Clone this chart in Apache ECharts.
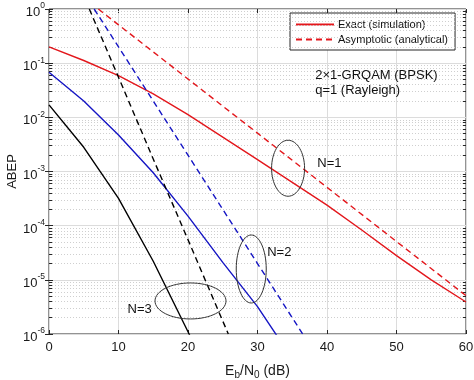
<!DOCTYPE html>
<html>
<head>
<meta charset="utf-8">
<script src="https://cdn.jsdelivr.net/npm/echarts@6/dist/echarts.min.js"></script>
<style>html,body{margin:0;padding:0;background:#fff}#c{width:474px;height:380px}</style>
</head>
<body>
<div id="c"></div>
<script>
// ---- data ----
const snr = [0, 5, 10, 15, 20, 25, 30, 35, 40, 45, 50, 55, 60];
const exactN1 = [0.2, 0.112, 0.059, 0.027, 0.0112, 0.0043, 0.00166, 0.00063, 0.00024, 8.3e-5, 2.8e-5, 1.0e-5, 3.9e-6];
const exactN2 = [0.068, 0.020, 0.0047, 0.00095, 0.00015, 2.1e-5, 3.2e-6, 3.5e-7];
const exactN3 = [0.017, 0.0028, 0.00032, 2.2e-5, 1.1e-6, 5e-8];
const asymN1X = [7.1, 10, 20, 30, 40, 50, 60];
const asymN1Y = [1, 0.51, 0.051, 0.0051, 5.1e-4, 5.1e-5, 5.1e-6];
const asymN2X = [6.5, 10, 15, 20, 25, 30, 36.5];
const asymN2Y = [1, 0.2, 0.02, 0.002, 2e-4, 2e-5, 1e-6];
const asymN3X = [5.8, 10, 15, 20, 25.8];
const asymN3Y = [1, 0.055, 0.0017, 5.5e-5, 1e-6];
const xTicks = [0, 10, 20, 30, 40, 50, 60];
const legendNames = ['Exact (simulation)', 'Asymptotic (analytical)'];
// annotations (data coordinates)
const ellipseCenters = [[34.4, 10 ** -2.94], [29.1, 10 ** -4.80], [20.36, 10 ** -5.39]];
const ellipseLabels = ['N=1', 'N=2', 'N=3'];
const labelPos = [[38.6, 10 ** -2.85], [31.4, 10 ** -4.49], [11.3, 10 ** -5.54]];
const noteLines = ['2\u00D71-GRQAM (BPSK)', 'q=1 (Rayleigh)'];
const notePos = [[38.3, 10 ** -1.225], [38.3, 10 ** -1.50]];

const RED = '#e3171c', BLUE = '#1515c4', BLACK = '#000000';
const FONT = 'Liberation Sans, Arial, Helvetica, sans-serif';

// minor grid positions (2..9 x 10^k)
const minorVals = [];
for (let k = -6; k < 0; k++) for (let m = 2; m <= 9; m++) minorVals.push(m * Math.pow(10, k));
const minorLines = minorVals.map(v => [{coord: [0, v]}, {coord: [60, v]}]);
const minorTicks = [];
minorVals.forEach(v => {
  minorTicks.push([{coord: [0, v]}, {coord: [0.45, v]}]);
  minorTicks.push([{coord: [59.55, v]}, {coord: [60, v]}]);
});

const zip = (xs, ys) => ys.map((y, i) => [xs[i], y]);

const chart = echarts.init(document.getElementById('c'), null, {renderer: 'canvas'});
const lineBase = {type: 'line', symbol: 'none', showSymbol: false, clip: true, animation: false, silent: true};

const option = {
  animation: false,
  backgroundColor: '#fff',
  textStyle: {fontFamily: FONT},
  grid: {left: 49, right: 8, top: 9, bottom: 46, containLabel: false, outerBoundsMode: 'none',
    show: true, borderColor: '#262626', borderWidth: 1, backgroundColor: '#fff'},
  legend: {
    data: legendNames,
    orient: 'vertical',
    left: 290, top: 13,
    padding: [6, 7, 5, 5],
    itemWidth: 38, itemHeight: 10, itemGap: 4,
    backgroundColor: '#fff',
    borderColor: '#262626', borderWidth: 1, borderRadius: 0,
    itemStyle: {opacity: 0},
    textStyle: {fontSize: 11, color: '#111', fontFamily: FONT, padding: [0, 0, 0, -1]},
    selectedMode: false
  },
  xAxis: [{
    type: 'value', min: 0, max: 60, interval: 10,
    axisLine: {show: false},
    axisTick: {show: true, inside: true, length: 4, lineStyle: {color: '#262626'}},
    axisLabel: {fontSize: 13, color: '#1a1a1a', margin: 7, fontFamily: FONT},
    splitLine: {show: true, lineStyle: {color: '#dcdcdc', width: 1}},
    name: 'E{sub|b}/N{sub|0} (dB)',
    nameLocation: 'middle', nameGap: 28,
    nameTextStyle: {fontSize: 14, color: '#1a1a1a', fontFamily: FONT,
      rich: {sub: {fontSize: 10, padding: [8, 0, 0, 0], color: '#1a1a1a', fontFamily: FONT}}}
  }, {
    type: 'value', min: 0, max: 60, interval: 10, position: 'top',
    axisLine: {show: false},
    axisTick: {show: true, inside: true, length: 4, lineStyle: {color: '#262626'}},
    axisLabel: {show: false}, splitLine: {show: false}
  }],
  yAxis: [{
    type: 'log', logBase: 10, min: 1e-6, max: 1,
    axisLine: {show: false},
    axisTick: {show: true, inside: true, length: 4, lineStyle: {color: '#262626'}},
    axisLabel: {
      margin: 4, color: '#1a1a1a', fontFamily: FONT,
      formatter: v => '{b|10}{s|' + Math.round(Math.log10(v)) + '}',
      rich: {
        b: {fontSize: 13, color: '#1a1a1a', fontFamily: FONT, padding: [7, 0, 0, 0]},
        s: {fontSize: 8.5, color: '#1a1a1a', fontFamily: FONT, padding: [0, 0, 6, 0]}
      }
    },
    splitLine: {show: true, lineStyle: {color: '#dcdcdc', width: 1}},
    name: 'ABEP', nameLocation: 'middle', nameGap: 30, nameRotate: 90, nameMoveOverlap: false,
    nameTextStyle: {fontSize: 13, color: '#1a1a1a', fontFamily: FONT}
  }, {
    type: 'log', logBase: 10, min: 1e-6, max: 1, position: 'right',
    axisLine: {show: false},
    axisTick: {show: true, inside: true, length: 4, lineStyle: {color: '#262626'}},
    axisLabel: {show: false}, splitLine: {show: false}
  }],
  series: [
    Object.assign({}, lineBase, {
      name: legendNames[0], z: 5,
      data: zip(snr, exactN1),
      lineStyle: {color: RED, width: 1.4}, itemStyle: {color: RED},
      markLine: {
        silent: true, symbol: ['none', 'none'], animation: false,
        label: {show: false},
        lineStyle: {color: '#cfcfcf', width: 1, type: [1, 2]},
        data: minorLines
      }
    }),
    Object.assign({}, lineBase, {
      name: legendNames[1], z: 5,
      data: zip(asymN1X, asymN1Y),
      lineStyle: {color: RED, width: 1.4, type: [6, 4]}, itemStyle: {color: RED},
      markLine: {
        silent: true, symbol: ['none', 'none'], animation: false,
        label: {show: false},
        lineStyle: {color: '#262626', width: 1, type: 'solid'},
        data: minorTicks
      }
    }),
    Object.assign({}, lineBase, {
      name: 'exactN2', z: 5,
      data: zip(snr, exactN2),
      lineStyle: {color: BLUE, width: 1.4}, itemStyle: {color: BLUE}
    }),
    Object.assign({}, lineBase, {
      name: 'asymN2', z: 5,
      data: zip(asymN2X, asymN2Y),
      lineStyle: {color: BLUE, width: 1.4, type: [6, 4]}, itemStyle: {color: BLUE}
    }),
    Object.assign({}, lineBase, {
      name: 'exactN3', z: 5,
      data: zip(snr, exactN3),
      lineStyle: {color: BLACK, width: 1.4}, itemStyle: {color: BLACK}
    }),
    Object.assign({}, lineBase, {
      name: 'asymN3', z: 5,
      data: zip(asymN3X, asymN3Y),
      lineStyle: {color: BLACK, width: 1.4, type: [6, 4]}, itemStyle: {color: BLACK}
    })
  ]
};
chart.setOption(option);

// annotations positioned through the chart's own scales
const px = p => chart.convertToPixel({gridIndex: 0}, p);
const radii = [[16.5, 28], [15, 34], [35.5, 18]];
const graphics = [];
ellipseCenters.forEach((c, i) => {
  const p = px(c);
  graphics.push({type: 'ellipse', z: 20, silent: true,
    shape: {cx: p[0], cy: p[1], rx: radii[i][0], ry: radii[i][1]},
    style: {fill: null, stroke: '#333', lineWidth: 1}});
});
labelPos.forEach((c, i) => {
  const p = px(c);
  graphics.push({type: 'text', z: 20, silent: true, x: p[0], y: p[1],
    style: {text: ellipseLabels[i], fontSize: 13, fontFamily: FONT, fill: '#111', verticalAlign: 'middle', align: 'left'}});
});
notePos.forEach((c, i) => {
  const p = px(c);
  graphics.push({type: 'text', z: 20, silent: true, x: p[0], y: p[1],
    style: {text: noteLines[i], fontSize: 13, fontFamily: FONT, fill: '#111', verticalAlign: 'middle', align: 'left'}});
});
chart.setOption({graphic: graphics});
</script>
</body>
</html>
